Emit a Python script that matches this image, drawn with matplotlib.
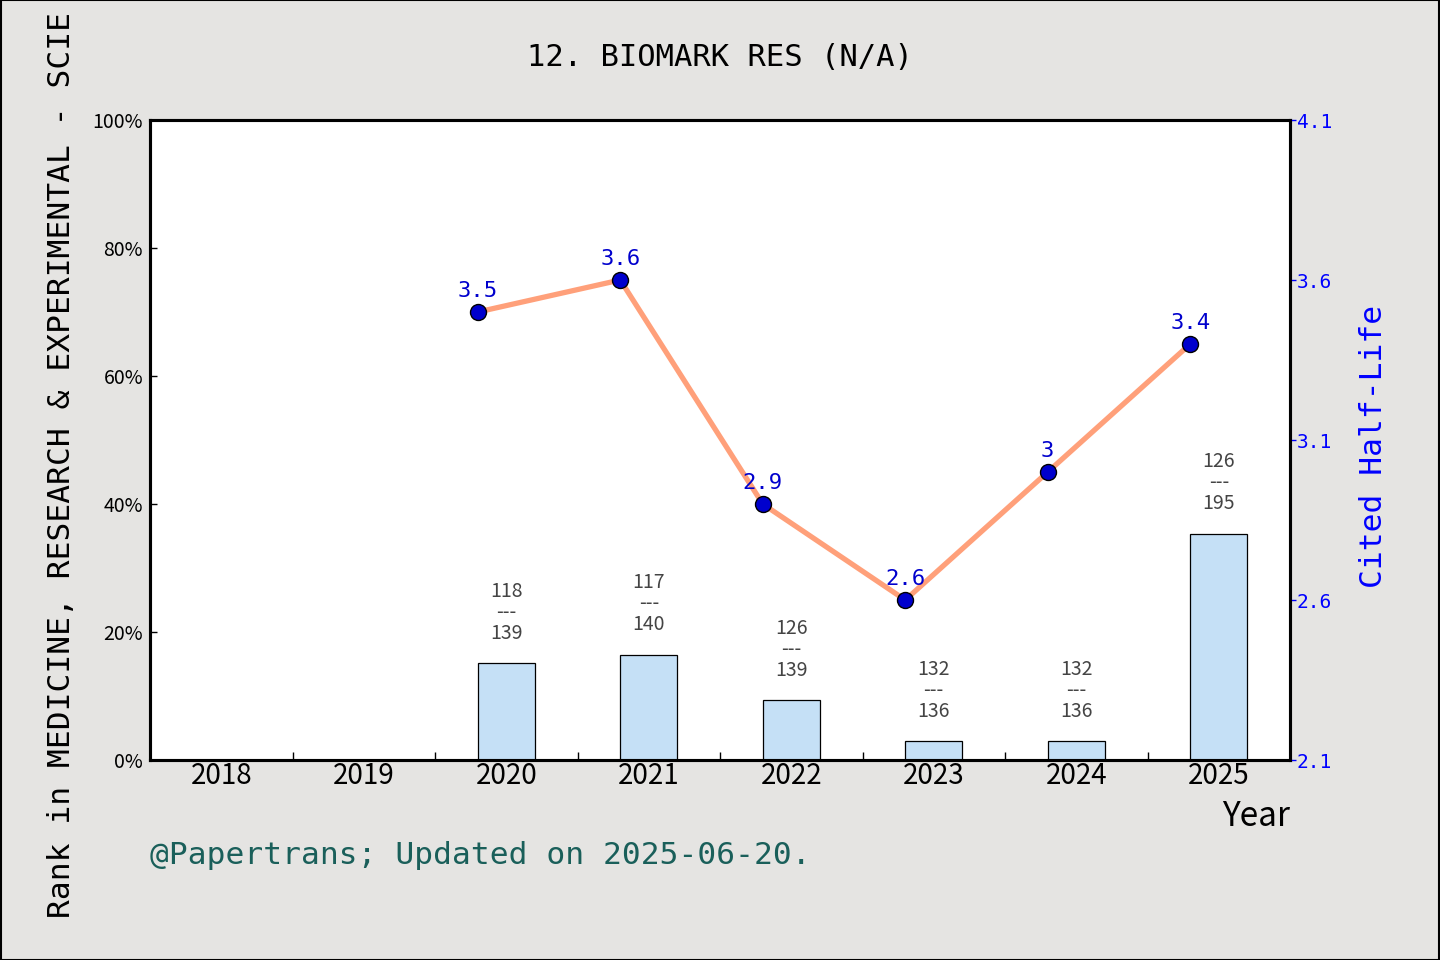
import matplotlib
matplotlib.use("Agg")
import matplotlib.pyplot as plt
from matplotlib.patches import Rectangle
import numpy as np

years = ["2018", "2019", "2020", "2021", "2022", "2023", "2024", "2025"]
rank = [None, None, 118, 117, 126, 132, 132, 126]
total = [None, None, 139, 140, 139, 136, 136, 195]
half_life = [None, None, 3.5, 3.6, 2.9, 2.6, 3.0, 3.4]
half_life_labels = ["", "", "3.5", "3.6", "2.9", "2.6", "3", "3.4"]

title = "12. BIOMARK RES (N/A)"
left_label = "Rank in MEDICINE, RESEARCH & EXPERIMENTAL - SCIE"
right_label = "Cited Half-Life"
credit = "@Papertrans; Updated on 2025-06-20."

MONO = ["DejaVu Sans Mono"]
SANS = ["Noto Sans CJK SC", "DejaVu Sans"]
BG = "#e5e4e2"
BAR_W = 0.4

fig = plt.figure(figsize=(14.4, 9.6), dpi=100, facecolor=BG)
ax = fig.add_axes([150/1440, 1-760/960, 1140/1440, 640/960])
ax.set_facecolor("white")

x = np.arange(len(years))
bar_vals = [((t - r) / t) if r is not None else 0 for r, t in zip(rank, total)]
ax.bar(x, bar_vals, width=BAR_W, color="#c5e0f6", edgecolor="black", linewidth=0.9, zorder=2)
for xi, r, t, v in zip(x, rank, total, bar_vals):
    if r is None:
        continue
    ax.annotate(f"{r}\n---\n{t}", (xi, v), xytext=(0, 14), textcoords="offset points",
                ha="center", va="bottom", fontsize=14, color="#444444",
                family=SANS, linespacing=1.0, zorder=3)

ax.set_xlim(-0.5, len(years) - 0.5)
ax.set_ylim(0, 1)
ax.set_yticks([0, 0.2, 0.4, 0.6, 0.8, 1.0])
ax.set_yticklabels(["0%", "20%", "40%", "60%", "80%", "100%"], family=SANS, fontsize=14)
ax.tick_params(axis="y", direction="in", length=5, width=1, pad=5)
ax.set_xticks(x)
ax.set_xticklabels(years, family=SANS, fontsize=20)
ax.tick_params(axis="x", which="major", length=0, pad=1)
ax.set_xticks(np.arange(0.5, len(years) - 1, 1.0), minor=True)
ax.tick_params(axis="x", which="minor", direction="in", length=6, width=1)
for s in ax.spines.values():
    s.set_linewidth(2.2)

ax2 = ax.twinx()
ax2.set_ylim(2.1, 4.1)
ax2.set_yticks([2.1, 2.6, 3.1, 3.6, 4.1])
ax2.set_yticklabels(["2.1", "2.6", "3.1", "3.6", "4.1"], family=MONO, fontsize=14, color="#0000ff")
ax2.tick_params(axis="y", direction="out", length=4, width=1, color="#0000ff", pad=1)
for s in ax2.spines.values():
    s.set_linewidth(2.2)

hx = [xi - BAR_W / 2 for xi, h in zip(x, half_life) if h is not None]
hy = [h for h in half_life if h is not None]
hl = [lab for lab, h in zip(half_life_labels, half_life) if h is not None]
ax2.plot(hx, hy, color="#ffa07a", linewidth=3.8, zorder=3)
ax2.plot(hx, hy, linestyle="none", marker="o", markersize=11.5, markerfacecolor="#0000cd",
         markeredgecolor="black", markeredgewidth=1, zorder=4)
for xi, h, lab in zip(hx, hy, hl):
    ax2.annotate(lab, (xi, h), xytext=(0, 8), textcoords="offset points", ha="center",
                 va="bottom", fontsize=16, color="#0000cd", family=MONO, zorder=5)

fig.text(720/1440, 1-57/960, title, ha="center", va="center", fontsize=22, family=MONO, color="black")
fig.text(62/1440, 1-465/960, left_label, ha="center", va="center", rotation=90, fontsize=22.5,
         family=MONO, color="black")
fig.text(1373/1440, 1-446/960, right_label, ha="center", va="center", rotation=90, fontsize=22.5,
         family=MONO, color="#0000ff")
fig.text(1290/1440, 1-817/960, "Year", ha="right", va="center", fontsize=24, family=SANS, color="black")
fig.text(150/1440, 1-855/960, credit, ha="left", va="center", fontsize=22.5, family=MONO, color="#1a5f5a")

fig.patches.append(Rectangle((0.0005, 0.0005), 0.999, 0.999, transform=fig.transFigure,
                             fill=False, edgecolor="black", linewidth=1.5))

fig.savefig("out.png", dpi=100, facecolor=BG)
